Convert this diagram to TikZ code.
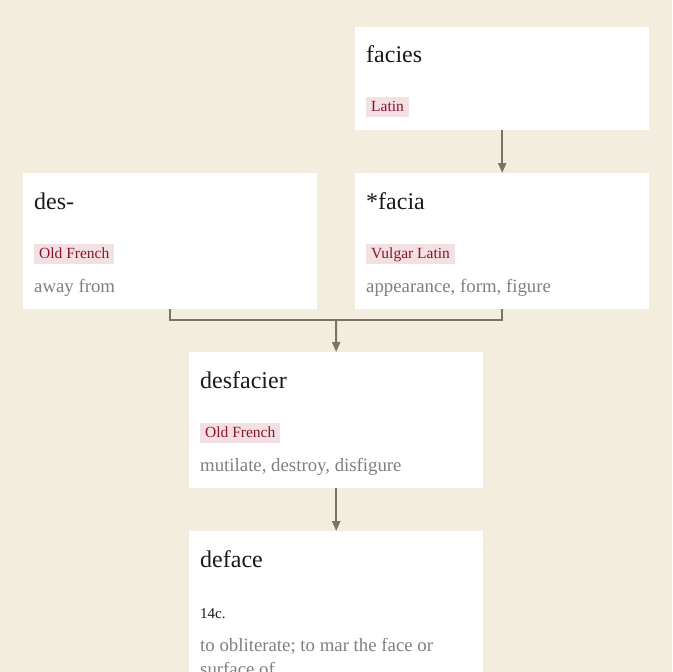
\documentclass[tikz,border=0pt]{standalone}
\usepackage{xcolor}
\usepackage{fontspec}
\setmainfont{Liberation Serif}
\usetikzlibrary{arrows.meta}

\definecolor{paper}{HTML}{F3EDDD}
\definecolor{wordcol}{HTML}{1A1A1A}
\definecolor{tagfill}{HTML}{F3E0E3}
\definecolor{tagtext}{HTML}{8A1530}
\definecolor{glosscol}{HTML}{808080}
\definecolor{linkcol}{HTML}{7A7464}

\begin{document}
\begin{tikzpicture}[x=1pt,y=-1pt,
      box/.style={fill=white,anchor=north west,minimum width=294pt,
        minimum height=136pt,inner sep=0pt},
      word/.style={anchor=base west,inner sep=0pt,text=wordcol,
        font=\fontsize{24}{28}\selectfont},
      lang/.style={anchor=west,fill=tagfill,text=tagtext,inner xsep=5pt,
        inner ysep=3pt,text height=11pt,text depth=3pt,
        font=\fontsize{15.5}{18}\selectfont},
      gloss/.style={anchor=base west,inner sep=0pt,align=left,text=glosscol,
        font=\fontsize{18.8}{24}\selectfont},
      link/.style={draw=linkcol,line width=2pt},
      arrow/.style={link,-{Triangle[length=10pt,width=8pt]}}]
      \useasboundingbox (0,0) rectangle (672,672);
      \clip (0,0) rectangle (672,672);
      \fill[paper] (0,0) rectangle (672,672);
      % boxes
      \node[box,minimum height=103pt] (facies) at (355,27) {};
      \node[box] (des) at (23,173) {};
      \node[box] (facia) at (355,173) {};
      \node[box] (desfacier) at (189,352) {};
      \node[box,minimum height=170pt] (deface) at (189,531) {};
      % facies
      \node[word] (faciesword) at ([shift={(11,35)}]facies.north west) {facies};
      \node[lang] (facieslang) at ([shift={(11,80)}]facies.north west) {Latin};
      % des-
      \node[word] (desword) at ([shift={(11,36)}]des.north west) {des-};
      \node[lang] (deslang) at ([shift={(11,81)}]des.north west) {Old French};
      \node[gloss] (desgloss) at ([shift={(11,119)}]des.north west) {away from};
      % *facia
      \node[word] (faciaword) at ([shift={(11,36)}]facia.north west) {*facia};
      \node[lang] (facialang) at ([shift={(11,81)}]facia.north west) {Vulgar Latin};
      \node[gloss] (faciagloss) at ([shift={(11,119)}]facia.north west) {appearance, form, figure};
      % desfacier
      \node[word] (desfacierword) at ([shift={(11,36)}]desfacier.north west) {desfacier};
      \node[lang] (desfacierlang) at ([shift={(11,81)}]desfacier.north west) {Old French};
      \node[gloss] (desfaciergloss) at ([shift={(11,119)}]desfacier.north west) {mutilate, destroy, disfigure};
      % deface
      \node[word] (defaceword) at ([shift={(11,36)}]deface.north west) {deface};
      \node[anchor=base west,inner sep=0pt,text=wordcol,font=\fontsize{15}{18}\selectfont]
        (defacedate) at ([shift={(11,87)}]deface.north west) {14c.};
      % base of a two-line node sits on its last line
      \node[gloss] (defacegloss) at ([shift={(11,144)}]deface.north west)
        {to obliterate; to mar the face or\\surface of};
      % connectors
      \coordinate (join) at (336,320);
      \draw[arrow] (facies.south) -- (facia.north);
      \draw[link] (des.south) |- (join) -| (facia.south);
      \draw[arrow] (join) -- (desfacier.north);
      \draw[arrow] (desfacier.south) -- (deface.north);
      % \noindent
\end{tikzpicture}
\end{document}
